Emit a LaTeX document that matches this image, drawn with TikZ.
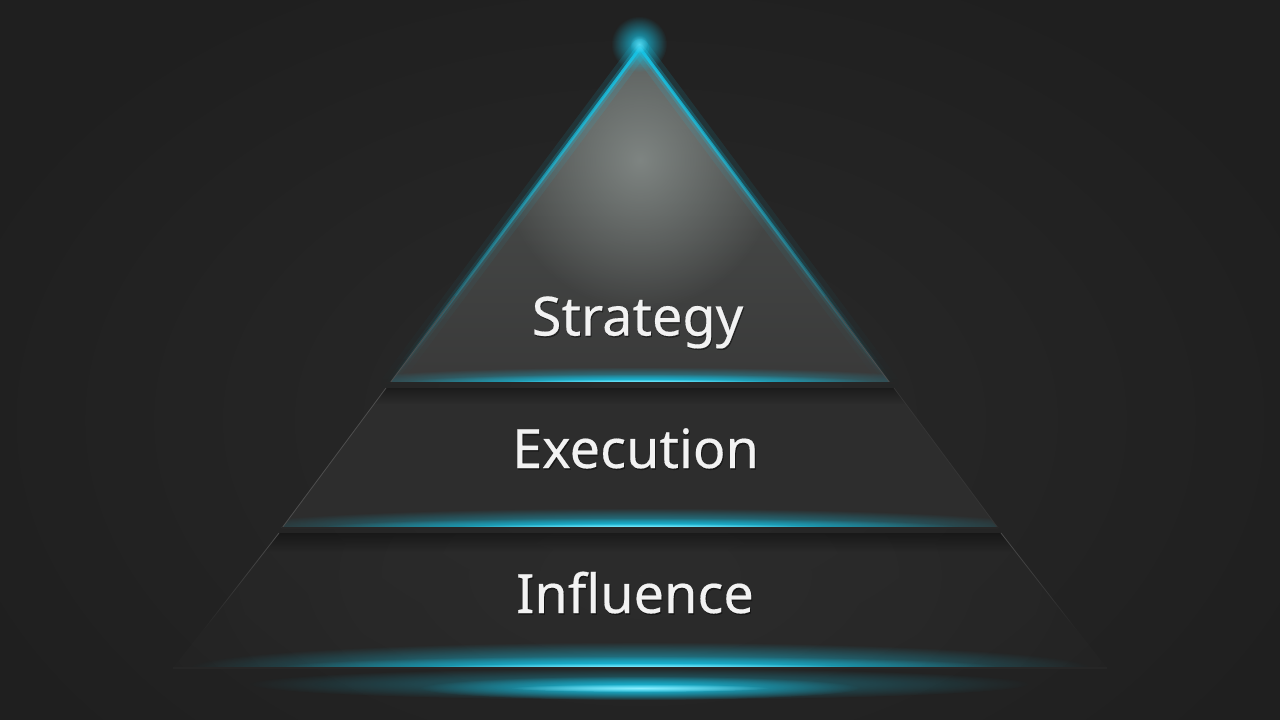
\documentclass[tikz,border=0pt]{standalone}
\usepackage{fontspec}
\setmainfont{Noto Sans}
\newfontfamily\labelfont[FakeBold=0.3]{Noto Sans}
\usetikzlibrary{fadings}
\definecolor{bgc}{HTML}{1F1F1F}
\definecolor{bgmid}{HTML}{2A2A2A}
\definecolor{glowc}{HTML}{16C4E6}
\definecolor{glowcore}{HTML}{8DEFFF}
\definecolor{toptop}{HTML}{505452}
\definecolor{topbot}{HTML}{393939}
\definecolor{tophi}{HTML}{8C9390}
\definecolor{midc}{HTML}{2D2D2D}
\definecolor{botc}{HTML}{2C2C2C}
\definecolor{edgec}{HTML}{4E4E4E}
\definecolor{edgefaint}{HTML}{353535}
\tikzfading[name=radglow, inner color=transparent!0, outer color=transparent!100]
\tikzfading[name=fadedown, top color=transparent!0, bottom color=transparent!100]
\tikzset{
  glowsoft/.style={fill=glowc, path fading=radglow, opacity=0.8},
  glowmid/.style={fill=glowc, path fading=radglow, opacity=1},
  glowhot/.style={fill=glowcore, path fading=radglow},
  baseline/.style={draw=black!85, line width=2pt},
  shadowband/.style={fill=black, opacity=0.45, path fading=fadedown},
  lbl/.style={text=white!95!black, font=\labelfont\fontsize{54}{60}\selectfont, inner sep=0pt, anchor=base},
  lblshadow/.style={text=black, opacity=0.4, font=\labelfont\fontsize{54}{60}\selectfont, inner sep=0pt, anchor=base},
  edgeglow/.style={draw=glowc, path fading=fadedown, line cap=round},
}
\begin{document}
\begin{tikzpicture}[x=1pt,y=-1pt]
\useasboundingbox (0,0) rectangle (1280,720);
% background
\fill[bgc] (0,0) rectangle (1280,720);
\fill[bgmid, path fading=radglow] (640,420) ellipse [x radius=760pt, y radius=520pt];

% coordinates
\coordinate (apex) at (640,48);
\coordinate (tl) at (390,383);
\coordinate (tr) at (890,383);
\coordinate (ml1) at (386,388);
\coordinate (mr1) at (894,388);
\coordinate (ml2) at (282,528);
\coordinate (mr2) at (998,528);
\coordinate (bl1) at (279,533);
\coordinate (br1) at (1001,533);
\coordinate (bl2) at (173,668);
\coordinate (br2) at (1107,668);

% ---------- bottom layer ----------
\begin{scope}
  \clip (bl1) -- (br1) -- (br2) -- (bl2) -- cycle;
  \fill[botc, path fading=radglow] (640,575) ellipse [x radius=600pt, y radius=300pt];
  \fill[shadowband] (170,530) rectangle (1110,552);
  \fill[glowsoft] (640,668) ellipse [x radius=450pt, y radius=26pt];
  \fill[glowmid] (640,667) ellipse [x radius=360pt, y radius=11pt];
  \fill[glowhot] (640,667) ellipse [x radius=220pt, y radius=4pt];
\end{scope}
\draw[edgec, line width=0.8pt, path fading=fadedown] (bl1) -- (202,632);
\draw[edgec, line width=0.8pt, path fading=fadedown] (br1) -- (1078,632);
\draw[baseline] (bl2) -- (br2);
% reflection below the base
\fill[glowc, path fading=radglow, opacity=0.5] (640,684) ellipse [x radius=390pt, y radius=16pt];
\fill[glowmid] (640,688) ellipse [x radius=220pt, y radius=12pt];
\fill[glowhot] (640,688) ellipse [x radius=130pt, y radius=4pt];

% ---------- middle layer ----------
\fill[midc] (ml1) -- (mr1) -- (mr2) -- (ml2) -- cycle;
\begin{scope}
  \clip (ml1) -- (mr1) -- (mr2) -- (ml2) -- cycle;
  \fill[shadowband] (280,385) rectangle (1000,404);
  \fill[glowsoft] (640,528) ellipse [x radius=410pt, y radius=20pt];
  \fill[glowmid] (640,527) ellipse [x radius=320pt, y radius=9pt];
  \fill[glowhot] (640,527) ellipse [x radius=190pt, y radius=3.5pt];
\end{scope}
\draw[edgec, line width=0.8pt] (ml1) -- (ml2);
\draw[edgefaint, line width=0.8pt] (mr1) -- (mr2);
\draw[baseline] (ml2) -- (mr2);

% ---------- top triangle ----------
\shade[top color=toptop, bottom color=topbot] (apex) -- (tr) -- (tl) -- cycle;
\begin{scope}
  \clip (apex) -- (tr) -- (tl) -- cycle;
  \fill[tophi, path fading=radglow, opacity=0.8] (640,160) ellipse [x radius=140pt, y radius=150pt];
  \fill[glowsoft] (640,383) ellipse [x radius=310pt, y radius=16pt];
  \fill[glowmid] (640,382) ellipse [x radius=235pt, y radius=8pt];
  \fill[glowhot] (640,382) ellipse [x radius=140pt, y radius=3pt];
\end{scope}
% glowing upper edges
\draw[edgeglow, line width=18pt, opacity=0.14] (apex) -- (tl);
\draw[edgeglow, line width=18pt, opacity=0.14] (apex) -- (tr);
\draw[edgeglow, line width=8pt, opacity=0.3] (apex) -- (tl);
\draw[edgeglow, line width=8pt, opacity=0.3] (apex) -- (tr);
\draw[edgeglow, line width=3pt, opacity=0.9] (apex) -- (tl);
\draw[edgeglow, line width=3pt, opacity=0.9] (apex) -- (tr);
\draw[edgec, line width=0.8pt] (tl) -- (455,296);
\draw[edgec, line width=0.8pt] (tr) -- (825,296);
\draw[baseline] (385,383) -- (895,383);
% apex light
\fill[glowc, path fading=radglow, opacity=0.9] (639,44) circle [radius=28pt];
\fill[glowcore, path fading=radglow, opacity=0.5] (639,44) circle [radius=9pt];

% ---------- labels ----------
\node[lblshadow] (strategyshadow) at (638.5,337) {Strategy};
\node[lbl] (strategy) at (637.5,335.5) {Strategy};
\node[lblshadow] (executionshadow) at (636.5,469.5) {Execution};
\node[lbl] (execution) at (635.5,468) {Execution};
\node[lblshadow] (influenceshadow) at (636,614.5) {Influence};
\node[lbl] (influence) at (635,613) {Influence};
\end{tikzpicture}
\end{document}
